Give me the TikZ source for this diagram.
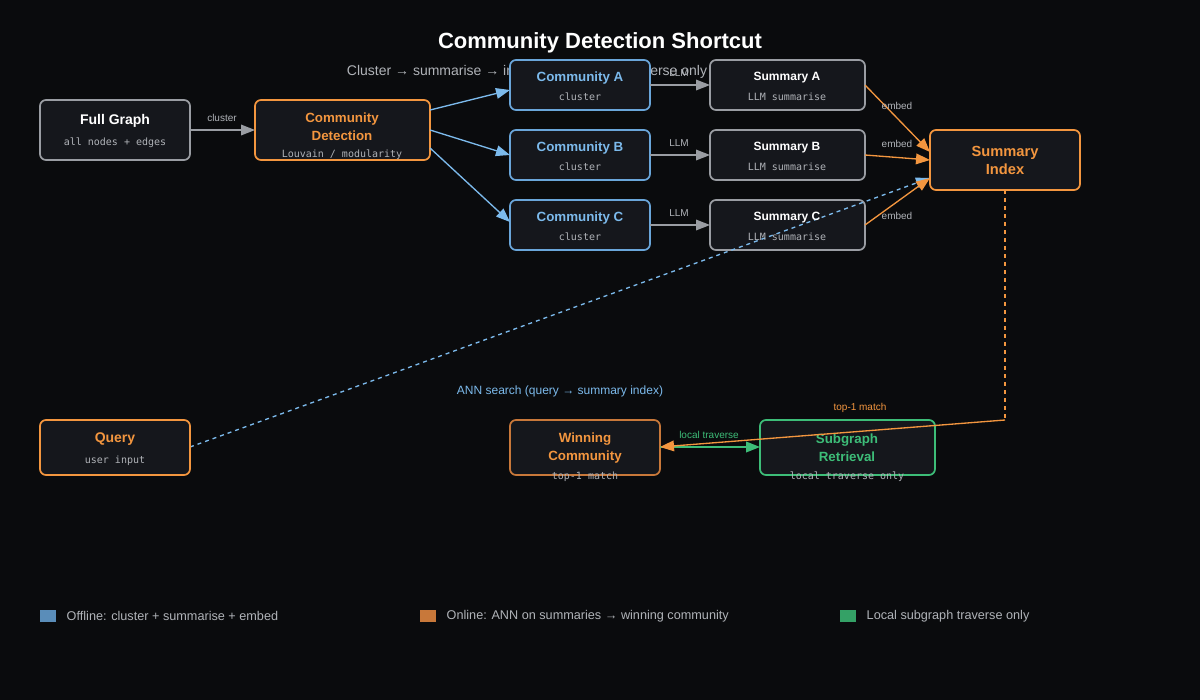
\documentclass[tikz,border=0pt]{standalone}
\usepackage{fontspec}
\setmainfont{Liberation Sans}
\setmonofont{DejaVu Sans Mono}
\usetikzlibrary{arrows.meta}
\definecolor{bg}{HTML}{0A0B0D}
\definecolor{boxf}{HTML}{15171C}
\definecolor{cblue}{HTML}{7CBAEC}
\definecolor{bblue}{HTML}{6AA6DA}
\definecolor{cor}{HTML}{F3963F}
\definecolor{dor}{HTML}{C8783A}
\definecolor{cgr}{HTML}{3DBD78}
\definecolor{cgray}{HTML}{9A9DA3}
\definecolor{ctxt}{HTML}{B0B3B8}
\tikzset{
 x=0.75pt,y=-0.75pt,
 box/.style={fill=boxf, rounded corners=4.5pt, line width=1.3pt, inner sep=0pt},
 tt/.style={font=\bfseries\fontsize{10.5}{12}\selectfont, align=center},
 sub/.style={font=\ttfamily\fontsize{7.5}{8}\selectfont, text=ctxt},
 lab/.style={font=\fontsize{7.5}{9}\selectfont},
 arr/.style={-{Triangle[length=10.5pt,width=8pt]}, line width=1pt},
}
\newcommand{\bx}[7]{% name x1 y1 x2 y2 color
 \draw[box,draw=#6] (#2,#3) rectangle (#4,#5);
 \node (#1) at ({(#2+#4)/2},{(#3+#5)/2}) [minimum width={(#4-#2)*0.75pt}, minimum height={(#5-#3)*0.75pt}] {};
}
\begin{document}
\begin{tikzpicture}
\fill[bg] (0,0) rectangle (1200,700);
\useasboundingbox (0,0) rectangle (1200,700);
\node[font=\bfseries\fontsize{16.5}{20}\selectfont, text=white] at (600,43) {Community Detection Shortcut};
\node[font=\fontsize{10.5}{12}\selectfont, text=ctxt] at (527,72) {Cluster → summarise → index → retrieve → traverse only};
% boxes
\bx{fg}{40}{100}{190}{160}{cgray}{}
\node[tt,text=white] at (115,121) {Full Graph};
\node[sub] at (115,143) {all nodes + edges};
\bx{cd}{255}{100}{430}{160}{cor}{}
\node[tt,text=cor,font=\bfseries\fontsize{10}{13.5}\selectfont] at (342,127) {Community\\Detection};
\node[sub] at (342,155) {Louvain / modularity};
\foreach \n/\l/\y in {ca/A/60,cb/B/130,cc/C/200}{
 \bx{\n}{510}{\y}{650}{\y+50}{bblue}{}
 \node[tt,text=cblue,font=\bfseries\fontsize{10}{12}\selectfont] at (580,\y+18) {Community \l};
 \node[sub] at (580,\y+37) {cluster};
}
\foreach \n/\l/\y in {sa/A/60,sb/B/130,sc/C/200}{
 \bx{\n}{710}{\y}{865}{\y+50}{cgray}{}
}
\draw[-{Triangle[length=10.5pt,width=8pt]}, line width=1pt, cblue, dashed] (190,447) -- (930,178);
\foreach \n/\l/\y in {sa/A/60,sb/B/130,sc/C/200}{
 \node[tt,text=white,font=\bfseries\fontsize{9}{11}\selectfont] at (787,\y+18) {Summary \l};
 \node[sub] at (787,\y+37) {LLM summarise};
}
\bx{si}{930}{130}{1080}{190}{cor}{}
\node[tt,text=cor,font=\bfseries\fontsize{11}{13.5}\selectfont] at (1005,160) {Summary\\Index};
\bx{q}{40}{420}{190}{475}{cor}{}
\node[tt,text=cor] at (115,439) {Query};
\node[sub] at (115,461) {user input};
\bx{wc}{510}{420}{660}{475}{dor}{}
\node[tt,text=cor,font=\bfseries\fontsize{10}{13.5}\selectfont] at (585,448) {Winning\\Community};
\node[sub] at (585,477) {top-1 match};
\bx{sg}{760}{420}{935}{475}{cgr}{}
\node[tt,text=cgr,font=\bfseries\fontsize{10}{13.5}\selectfont] at (847,448) {Subgraph\\Retrieval};
\node[sub] at (847,477) {local traverse only};
% arrows
\draw[arr,cgray] (190,130) -- (255,130);
\node[lab,text=ctxt] at (222,118) {cluster};
\draw[arr,cblue] (430,110) -- (510,90);
\draw[arr,cblue] (430,130) -- (510,155);
\draw[arr,cblue] (430,148) -- (510,222);
\foreach \y in {85,155,225}{ \draw[arr,cgray] (650,\y) -- (710,\y); \node[lab,text=ctxt] at (679,\y-12) {LLM}; }
\draw[arr,cor] (865,85) -- (930,152);
\draw[arr,cor] (865,155) -- (930,160);
\draw[arr,cor] (865,225) -- (930,178);
\node[lab,text=ctxt] at (897,106) {embed};
\node[lab,text=ctxt] at (897,144) {embed};
\node[lab,text=ctxt] at (897,216) {embed};
\node[font=\fontsize{9}{11}\selectfont,text=cblue] at (560,391) {ANN search (query → summary index)};
\coordinate (k) at (1005,420);
\draw[cor,dashed,line width=1pt] (si.south) -- (k);
\draw[arr,cgr,line width=1.3pt] (660,447) -- (760,447);
\draw[arr,cor] (k) -- (660,447);
\node[lab,text=cor] at (860,408) {top-1 match};
\node[lab,text=cgr] at (709,435) {local traverse};
% legend
\fill[bblue!85!black] (40,610) rectangle (56,622);
\node[anchor=west,font=\fontsize{9.5}{11}\selectfont,text=ctxt] at (62,616) {Offline: cluster + summarise + embed};
\fill[dor] (420,610) rectangle (436,622);
\node[anchor=west,font=\fontsize{9.5}{11}\selectfont,text=ctxt] at (442,616) {Online: ANN on summaries → winning community};
\fill[cgr!85!black] (840,610) rectangle (856,622);
\node[anchor=west,font=\fontsize{9.5}{11}\selectfont,text=ctxt] at (862,616) {Local subgraph traverse only};
\end{tikzpicture}
\end{document}
